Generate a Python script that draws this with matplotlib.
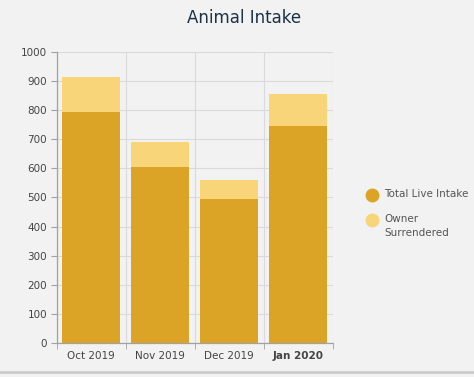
import matplotlib
matplotlib.use("Agg")
import matplotlib.pyplot as plt
from matplotlib.lines import Line2D
import numpy as np

months = ["Oct 2019", "Nov 2019", "Dec 2019", "Jan 2020"]
total_live_intake = [792, 603, 495, 746]
owner_surrendered = [122, 88, 65, 110]
y_ticks = [0, 100, 200, 300, 400, 500, 600, 700, 800, 900, 1000]
series_names = ["Total Live Intake", "Owner\nSurrendered"]

dark = "#dba427"
light = "#f9d57a"
bg = "#f2f2f2"

fig = plt.figure(figsize=(4.74, 3.77), dpi=100, facecolor=bg)
ax = fig.add_axes([0.120, 0.0902, 0.582, 0.772], facecolor=bg)

x = np.arange(len(months))
ax.bar(x, total_live_intake, width=0.84, color=dark, zorder=3)
ax.bar(x, owner_surrendered, width=0.84, bottom=total_live_intake, color=light, zorder=3)

ax.set_xlim(-0.5, len(months) - 0.5)
ax.set_ylim(0, 1000)
ax.set_yticks(y_ticks)
ax.set_yticklabels([str(v) for v in y_ticks])
ax.set_xticks(x)
ax.set_xticklabels(months)
ax.set_xticks(np.arange(-0.5, len(months), 1.0), minor=True)

ax.grid(axis="y", color="#d9d9de", linewidth=0.8, zorder=0)
ax.grid(axis="x", which="minor", color="#d9d9de", linewidth=0.8, zorder=0)
ax.tick_params(axis="x", which="major", length=0, pad=6, labelsize=7.5, labelcolor="#444444")
ax.tick_params(axis="x", which="minor", length=4, color="#a0a0a8", direction="out")
ax.tick_params(axis="y", length=4, color="#a0a0a8", labelsize=7.5, labelcolor="#444444", pad=3)
ax.get_xticklabels()[-1].set_fontweight("bold")

for s in ["top", "right"]:
    ax.spines[s].set_visible(False)
for s in ["left", "bottom"]:
    ax.spines[s].set_color("#a0a0a8")
    ax.spines[s].set_linewidth(0.9)

fig.text(0.515, 0.952, "Animal Intake", ha="center", va="center", fontsize=12, color="#1a3346")

# manual legend
W, H = 474, 377
leg_items = [(195, dark, series_names[0]), (220, light, series_names[1])]
for ypx, col, name in leg_items:
    fig.add_artist(Line2D([372 / W], [1 - ypx / H], marker="o", linestyle="", markersize=9,
                          color=col, transform=fig.transFigure))
    fig.text(384 / W, 1 - (ypx - 6) / H, name, ha="left", va="top", fontsize=7.5,
             color="#555555", linespacing=1.45)

fig.add_artist(Line2D([0, 1], [1 - 372 / H, 1 - 372 / H], color="#cccccc", linewidth=2,
                      transform=fig.transFigure))

fig.savefig("out.png", dpi=100, facecolor=bg)
